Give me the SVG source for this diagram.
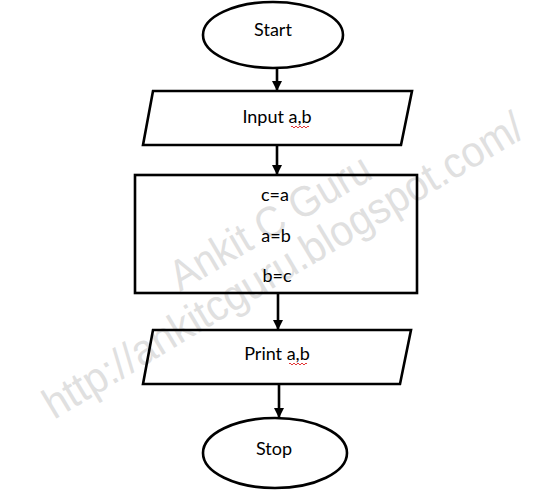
<svg xmlns="http://www.w3.org/2000/svg" width="547" height="492" viewBox="0 0 547 492">
<style>
.shape{fill:none;stroke:#000;stroke-width:2.6}
.lbl{font-family:Lato,"Liberation Sans",sans-serif;font-size:18px;fill:#000;text-anchor:middle}
.wm{font-family:"Liberation Sans",Arial,sans-serif;font-size:43px;fill:#e0e0e0}
.conn{stroke:#000;stroke-width:2.6;fill:none}
.squig{stroke:#e02020;stroke-width:0.9;fill:none}
</style>
<defs>
<marker id="ah" markerWidth="10" markerHeight="10" refX="9" refY="5" orient="auto" markerUnits="userSpaceOnUse">
<path d="M0,0 L10,5 L0,10 z" fill="#000"/>
</marker>
</defs>
<rect width="547" height="492" fill="#fff"/>
<g id="watermark">
<text class="wm" transform="translate(180,292) rotate(-30.5)" textLength="226" lengthAdjust="spacingAndGlyphs">Ankit C Guru</text>
<text class="wm" transform="translate(54,420) rotate(-31)" textLength="552" lengthAdjust="spacingAndGlyphs">http://ankitcguru.blogspot.com/</text>
</g>
<g id="start">
<ellipse class="shape" cx="273" cy="35" rx="70" ry="33"/>
<text class="lbl" x="273" y="36">Start</text>
</g>
<g id="input">
<polygon class="shape" points="153,91 412,91 401,145 143,145"/>
<text class="lbl" x="277" y="123">Input a,b</text>
<path class="squig" d="M291,127 q1,-2 2,0 t2,0 t2,0 t2,0 t2,0 t2,0 t2,0 t2,0 t2,0"/>
</g>
<g id="process">
<rect class="shape" x="135" y="175" width="282" height="118"/>
<text class="lbl" x="275" y="201">c=a</text>
<text class="lbl" x="276" y="242">a=b</text>
<text class="lbl" x="277" y="282">b=c</text>
</g>
<g id="print">
<polygon class="shape" points="153,330 411,330 400,384 143,384"/>
<text class="lbl" x="277" y="360">Print a,b</text>
<path class="squig" d="M289,364 q1,-2 2,0 t2,0 t2,0 t2,0 t2,0 t2,0 t2,0 t2,0 t2,0"/>
</g>
<g id="stop">
<ellipse class="shape" cx="275" cy="453" rx="72" ry="35"/>
<text class="lbl" x="274" y="455">Stop</text>
</g>
<g id="connectors">
<line class="conn" x1="277" y1="68" x2="277" y2="90" marker-end="url(#ah)"/>
<line class="conn" x1="277" y1="146" x2="277" y2="174" marker-end="url(#ah)"/>
<line class="conn" x1="278" y1="294" x2="278" y2="329" marker-end="url(#ah)"/>
<line class="conn" x1="279" y1="385" x2="279" y2="417" marker-end="url(#ah)"/>
</g>
</svg>
